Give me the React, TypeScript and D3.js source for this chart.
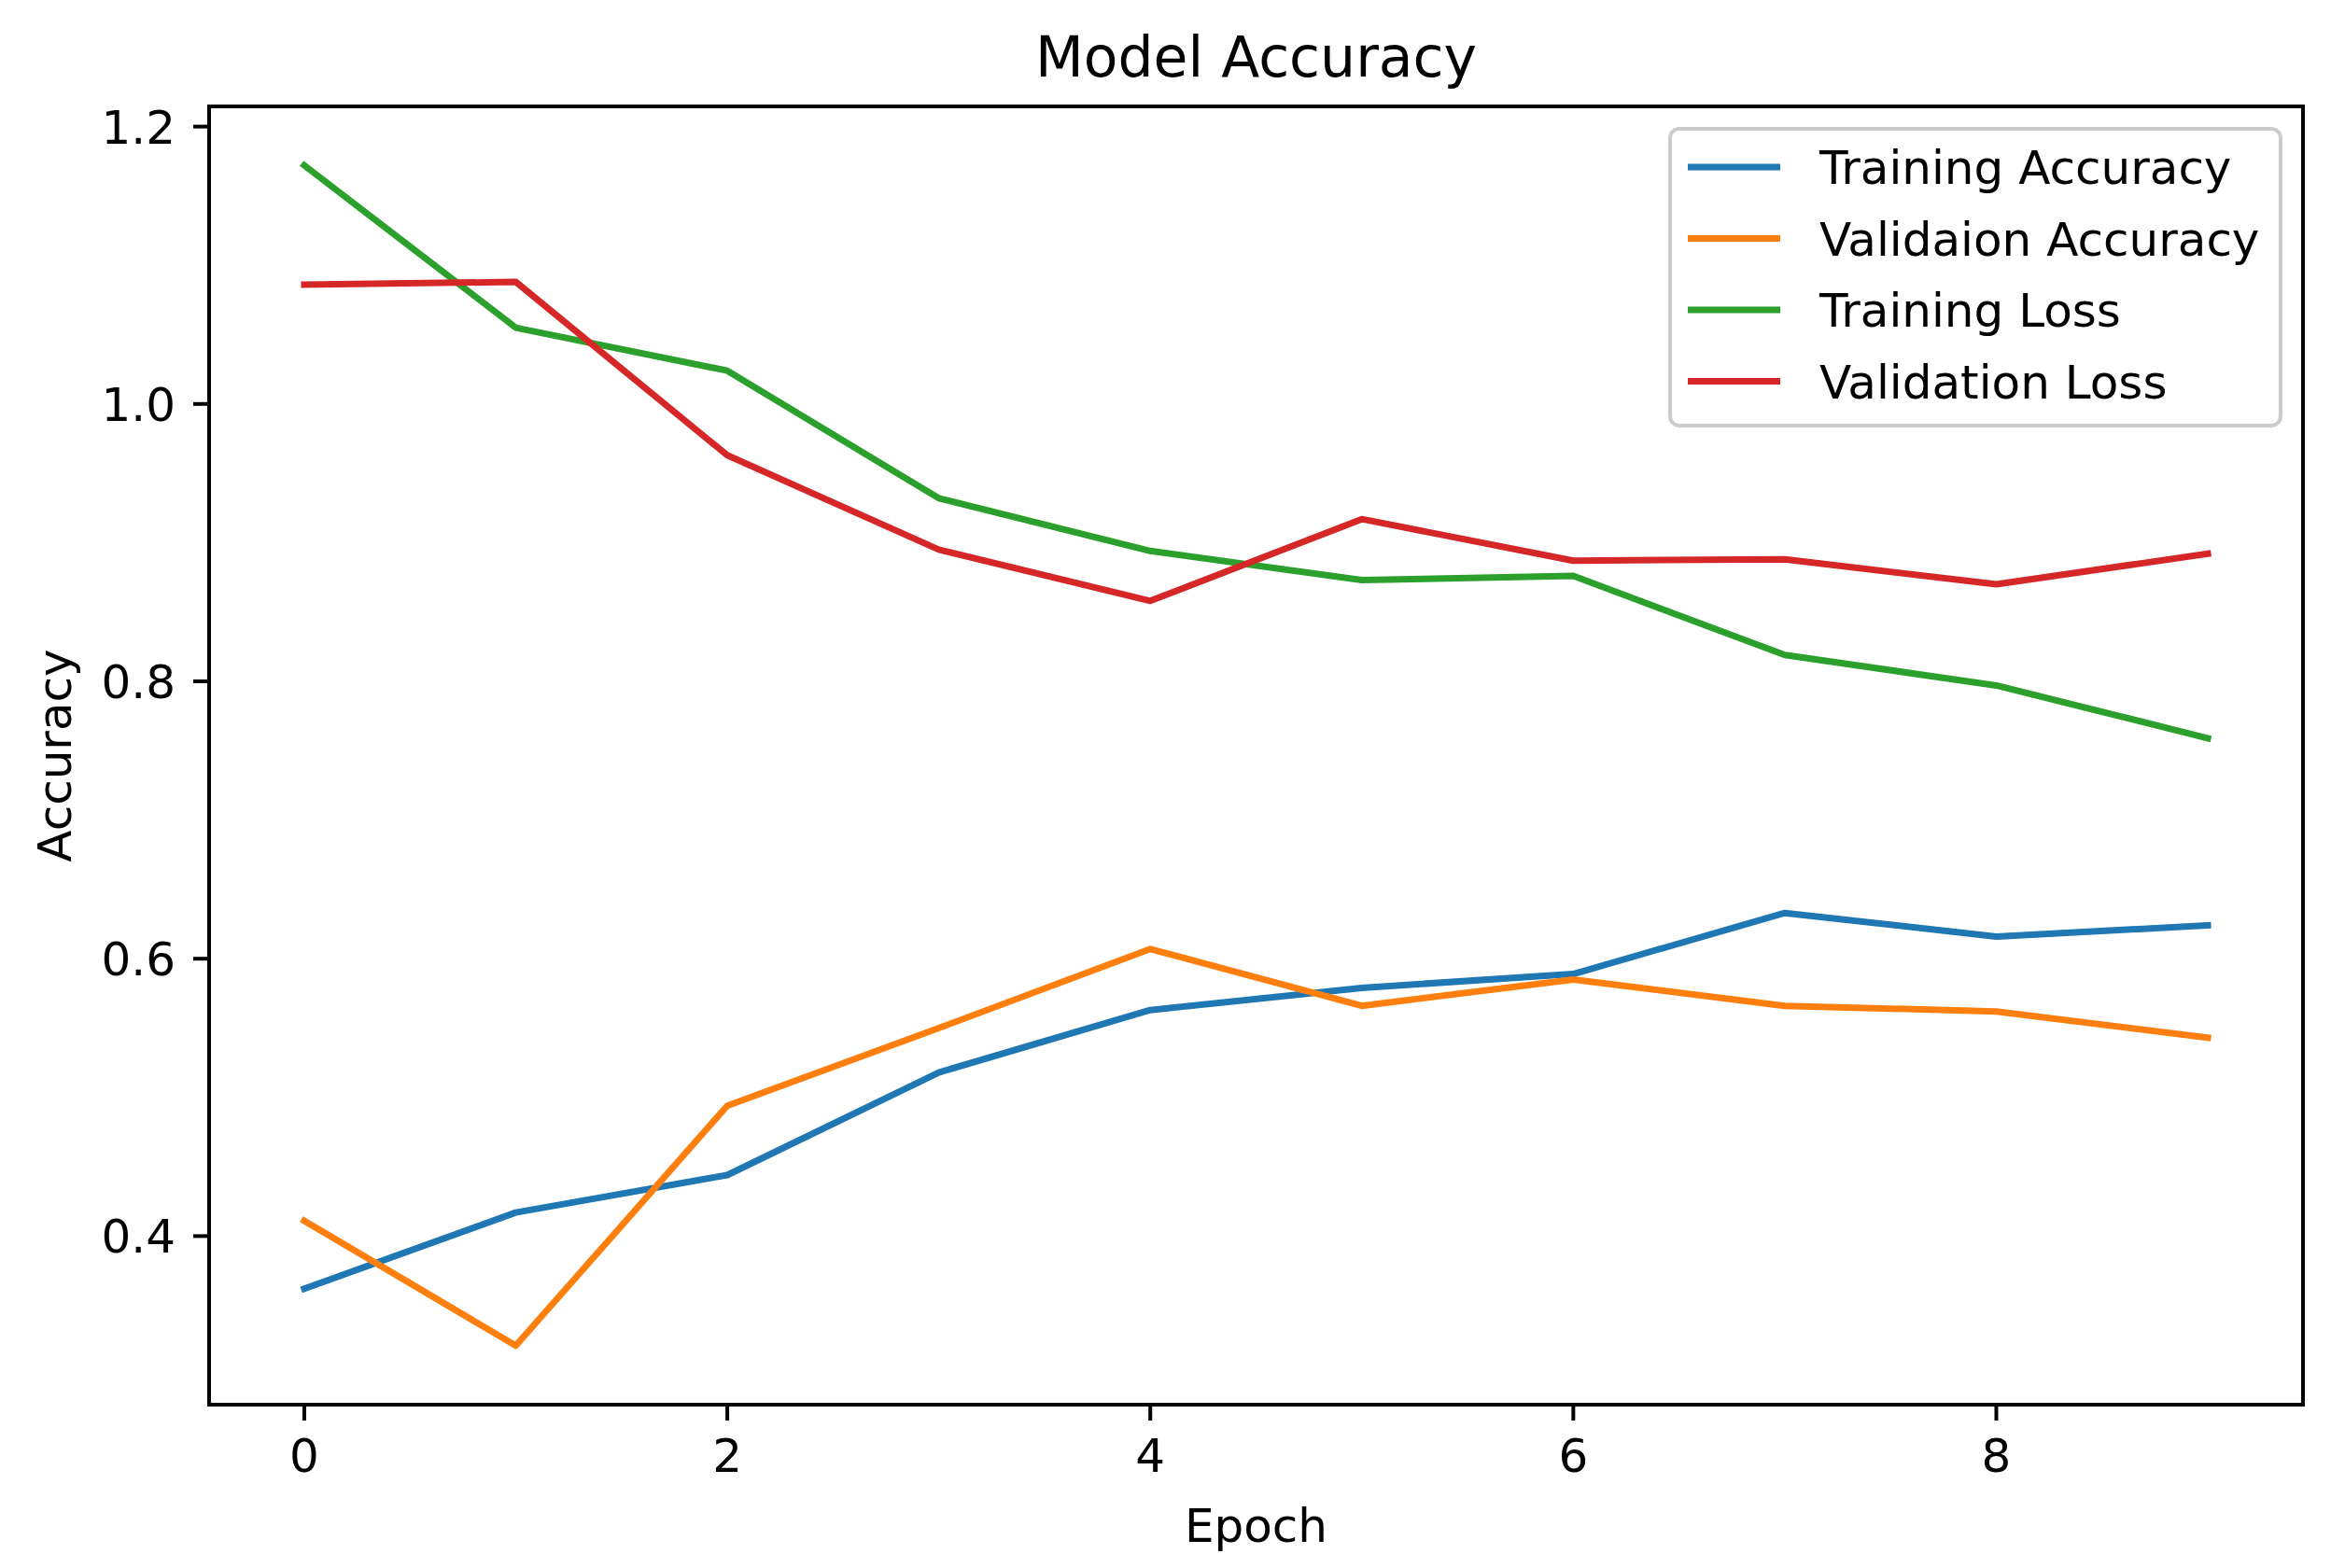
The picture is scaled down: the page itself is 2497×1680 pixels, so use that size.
import React, { useRef, useEffect } from "react";
import * as d3 from "d3";

// values
const epochs = [0, 1, 2, 3, 4, 5, 6, 7, 8, 9];
const trainAcc = [0.362, 0.417, 0.444, 0.518, 0.563, 0.579, 0.589, 0.633, 0.616, 0.624];
const valAcc = [0.411, 0.321, 0.494, 0.55, 0.607, 0.566, 0.585, 0.566, 0.562, 0.543];
const trainLoss = [1.172, 1.055, 1.024, 0.932, 0.894, 0.873, 0.876, 0.819, 0.797, 0.759];
const valLoss = [1.086, 1.088, 0.963, 0.895, 0.858, 0.917, 0.887, 0.888, 0.87, 0.892];

const seriesNames = ["Training Accuracy", "Validaion Accuracy", "Training Loss", "Validation Loss"];
const seriesColors = ["#1f77b4", "#ff7f0e", "#2ca02c", "#d62728"];
const xTicks = [0, 2, 4, 6, 8];
const yTicks = [0.4, 0.6, 0.8, 1.0, 1.2];

const App: React.FC = () => {
  const ref = useRef<SVGSVGElement | null>(null);

  useEffect(() => {
    if (!ref.current) return;
    const svg = d3.select(ref.current);
    svg.selectAll("*").remove();

    const W = 2497;
    const H = 1680;
    const left = 224, right = 2467, top = 114, bottom = 1505;
    const font = "DejaVu Sans, sans-serif";
    const fs = 50;

    const series = [trainAcc, valAcc, trainLoss, valLoss];
    const all = series.flat();
    const lo = d3.min(all)!;
    const hi = d3.max(all)!;
    const pad = (hi - lo) * 0.05;

    const x = d3.scaleLinear().domain([-0.45, 9.45]).range([left, right]);
    const y = d3.scaleLinear().domain([lo - pad, hi + pad]).range([bottom, top]);

    svg.append("rect").attr("width", W).attr("height", H).attr("fill", "#fff");

    const line = d3
      .line<number>()
      .x((_, i) => x(epochs[i]))
      .y((d) => y(d));

    series.forEach((s, k) => {
      svg
        .append("path")
        .datum(s)
        .attr("d", line)
        .attr("fill", "none")
        .attr("stroke", seriesColors[k])
        .attr("stroke-width", 7)
        .attr("stroke-linejoin", "round")
        .attr("stroke-linecap", "square");
    });

    // frame
    svg
      .append("rect")
      .attr("x", left)
      .attr("y", top)
      .attr("width", right - left)
      .attr("height", bottom - top)
      .attr("fill", "none")
      .attr("stroke", "#000")
      .attr("stroke-width", 4);

    // x ticks
    xTicks.forEach((t) => {
      svg
        .append("line")
        .attr("x1", x(t))
        .attr("x2", x(t))
        .attr("y1", bottom)
        .attr("y2", bottom + 17)
        .attr("stroke", "#000")
        .attr("stroke-width", 4);
      svg
        .append("text")
        .attr("x", x(t))
        .attr("y", bottom + 72)
        .attr("text-anchor", "middle")
        .attr("font-family", font)
        .attr("font-size", fs)
        .text(String(t));
    });

    // y ticks
    yTicks.forEach((t) => {
      svg
        .append("line")
        .attr("x1", left - 17)
        .attr("x2", left)
        .attr("y1", y(t))
        .attr("y2", y(t))
        .attr("stroke", "#000")
        .attr("stroke-width", 4);
      svg
        .append("text")
        .attr("x", left - 36)
        .attr("y", y(t))
        .attr("dy", "0.36em")
        .attr("text-anchor", "end")
        .attr("font-family", font)
        .attr("font-size", fs)
        .text(d3.format(".1f")(t));
    });

    svg
      .append("text")
      .attr("x", (left + right) / 2)
      .attr("y", 82)
      .attr("text-anchor", "middle")
      .attr("font-family", font)
      .attr("font-size", 60)
      .text("Model Accuracy");

    svg
      .append("text")
      .attr("x", (left + right) / 2)
      .attr("y", 1652)
      .attr("text-anchor", "middle")
      .attr("font-family", font)
      .attr("font-size", fs)
      .text("Epoch");

    svg
      .append("text")
      .attr("transform", `translate(76, ${(top + bottom) / 2}) rotate(-90)`)
      .attr("text-anchor", "middle")
      .attr("font-family", font)
      .attr("font-size", fs)
      .text("Accuracy");

    // legend
    const lg = svg.append("g");
    lg.append("rect")
      .attr("x", 1789)
      .attr("y", 138)
      .attr("width", 654)
      .attr("height", 318)
      .attr("rx", 10)
      .attr("fill", "#fff")
      .attr("fill-opacity", 0.8)
      .attr("stroke", "#cccccc")
      .attr("stroke-width", 4);
    seriesNames.forEach((name, k) => {
      const ly = 179 + k * 76.5;
      lg.append("line")
        .attr("x1", 1808)
        .attr("x2", 1907)
        .attr("y1", ly)
        .attr("y2", ly)
        .attr("stroke", seriesColors[k])
        .attr("stroke-width", 7);
      lg.append("text")
        .attr("x", 1949)
        .attr("y", ly)
        .attr("dy", "0.36em")
        .attr("font-family", font)
        .attr("font-size", fs)
        .text(name);
    });
  }, []);

  return (
    <svg
      ref={ref}
      width={2497}
      height={1680}
      style={{ position: "absolute", left: 0, top: 0, display: "block" }}
    />
  );
};

export default App;
